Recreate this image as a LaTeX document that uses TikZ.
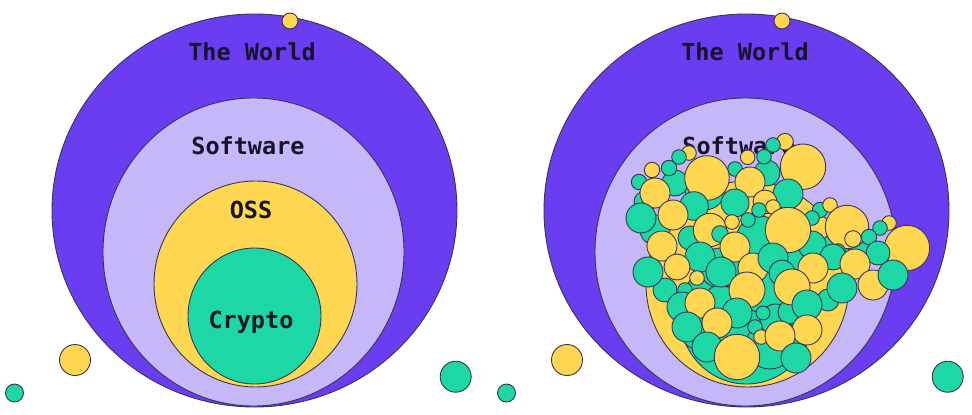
\documentclass[tikz,border=0pt]{standalone}
\usepackage{fontspec}
\newfontfamily\monob{DejaVu Sans Mono}[BoldFont={DejaVu Sans Mono Bold}]
\definecolor{worldc}{HTML}{6A3DF0}
\definecolor{softc}{HTML}{C6B7F8}
\definecolor{ossc}{HTML}{FFD752}
\definecolor{cryc}{HTML}{1DD8A4}
\definecolor{edgec}{HTML}{3A3450}
\definecolor{txtc}{HTML}{16142A}
\tikzset{
  shp/.style={draw=edgec, line width=0.9pt},
  yel/.style={shp, fill=ossc},
  grn/.style={shp, fill=cryc},
  lbl/.style={font=\monob\bfseries\fontsize{23.5}{26}\selectfont, text=txtc, inner sep=0pt}
}
\newcommand{\yb}[3]{\draw[yel] (#1,#2) circle[radius=#3pt];}
\newcommand{\gb}[3]{\draw[grn] (#1,#2) circle[radius=#3pt];}
\newcommand{\basepanel}[1]{%
  \begin{scope}[xshift=#1pt]
    \draw[shp, fill=worldc] (254.5,210.5) ellipse[x radius=202.5pt, y radius=196.5pt];
    \draw[shp, fill=softc] (253.5,252) ellipse[x radius=150.5pt, y radius=154pt];
    \draw[shp, fill=ossc] (255.5,284) ellipse[x radius=101.5pt, y radius=103pt];
    \draw[shp, fill=cryc] (254.5,316) ellipse[x radius=66.5pt, y radius=68pt];
    \yb{290}{21}{8}
    \yb{75}{360}{15.5}
    \gb{14.5}{393}{9}
    \gb{455.7}{376.7}{15.5}
  \end{scope}}
\begin{document}
\begin{tikzpicture}[x=1pt,y=-1pt]
\useasboundingbox (0,0) rectangle (972,415);
% left panel
\basepanel{0}
\node[lbl] (w1) at (252,52) {The World};
\node[lbl] (s1) at (248,146) {Software};
\node[lbl] (o1) at (251,210) {OSS};
\node[lbl] (c1) at (251,322) {Crypto};
% right panel
\basepanel{492}
\node[lbl] (w2) at (745,52) {The World};
\node[lbl] (s2) at (739,146) {Software};
\node[lbl] (c2) at (743,322) {Crypto};
% filler greens
\gb{705}{190}{20}
\gb{760}{240}{24}
\gb{740}{335}{28}
\gb{770}{345}{24}
\gb{720}{268}{20}
\gb{800}{258}{20}
\gb{655}{230}{15}
\gb{675}{183}{13}
\gb{767}{173}{13}
\gb{835}{250}{16}
\gb{700}{330}{20}
\gb{645}{202}{11}
\gb{812}{245}{14}
\gb{860}{247}{12}
\gb{665}{290}{12}
\gb{720}{300}{15}
\gb{776}{320}{16}
\gb{828}{300}{11}
\gb{690}{238}{12}
\gb{790}{312}{12}
% bubbles
\yb{785}{141.7}{8.3}
\gb{773}{145}{7.3}
\gb{764}{156.7}{7.3}
\yb{747.7}{157.3}{7.3}
\gb{735}{169}{7.3}
\yb{689}{153}{7.3}
\gb{679}{157}{7.3}
\gb{669}{168}{7.7}
\yb{652}{170}{7.7}
\gb{639}{182}{7.7}
\yb{803}{166.7}{22.7}
\yb{707}{178}{22.3}
\yb{655}{193}{15}
\yb{750}{182}{15}
\gb{788}{194}{15}
\yb{765}{202}{12}
\gb{759}{210}{7.3}
\yb{773}{207}{7.3}
\gb{735}{203}{14}
\gb{694}{206}{14.3}
\yb{710}{230}{16.7}
\yb{673}{215}{15}
\gb{641}{218}{15}
\yb{732}{222}{7.3}
\gb{748}{220}{7.3}
\gb{720}{234}{8.3}
\gb{820}{210}{7.7}
\yb{830}{205}{7.3}
\gb{812}{218}{7.3}
\yb{788}{230}{22.7}
\yb{847}{227}{21.7}
\yb{889}{223}{7.3}
\gb{880}{228}{7.3}
\gb{869}{237}{7.7}
\yb{853}{239}{8.3}
\yb{907}{248}{22.7}
\gb{878}{253}{12}
\gb{838}{251}{7.3}
\gb{833}{257}{13}
\yb{855}{264}{15}
\gb{842}{288}{15}
\yb{873}{285}{15}
\gb{893}{275}{15}
\yb{813}{268}{15}
\yb{662}{246}{15}
\gb{700}{257}{15}
\yb{735}{247}{15}
\yb{677}{267}{13}
\gb{648}{272}{15}
\gb{721}{272}{15}
\yb{697}{278}{7.3}
\yb{753}{268}{15}
\gb{773}{258}{15}
\gb{782}{273}{13}
\yb{747}{290}{18}
\yb{792}{287}{18}
\gb{685}{290}{7.3}
\gb{682}{307}{15}
\yb{700}{303}{15}
\gb{737}{313}{15}
\gb{807}{305}{15}
\gb{687}{327}{15}
\yb{717}{323}{15}
\gb{763}{313}{7}
\gb{755}{327}{7.3}
\yb{761}{337}{7.3}
\yb{807}{330}{15}
\yb{780}{336}{15}
\gb{707}{347}{15}
\yb{737}{357}{22.7}
\gb{796}{358}{15}
\end{tikzpicture}
\end{document}
